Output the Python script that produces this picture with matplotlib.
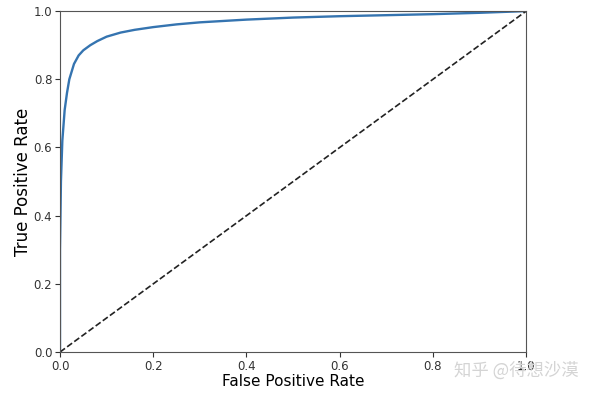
import matplotlib
matplotlib.use("Agg")
import matplotlib.pyplot as plt

# ROC curve values
fpr = [0, 0, 0.002, 0.005, 0.01, 0.015, 0.02, 0.03, 0.04, 0.05, 0.065, 0.08,
       0.1, 0.13, 0.16, 0.2, 0.25, 0.3, 0.4, 0.5, 0.6, 0.7, 0.8, 0.9, 1.0]
tpr = [0, 0.3, 0.5, 0.62, 0.71, 0.76, 0.8, 0.845, 0.87, 0.885, 0.9, 0.912,
       0.925, 0.937, 0.945, 0.953, 0.961, 0.967, 0.975, 0.981, 0.985, 0.988,
       0.991, 0.995, 1.0]
diag = [0, 1]
ticks = [0.0, 0.2, 0.4, 0.6, 0.8, 1.0]

fig = plt.figure(figsize=(6, 3.96), dpi=100)
ax = fig.add_axes([0.1, 0.111, 0.777, 0.861])
ax.plot(fpr, tpr, color="#3574b0", linewidth=1.7)
ax.plot(diag, diag, "--", color="#222222", linewidth=1.2)
ax.set_xlim(0, 1)
ax.set_ylim(0, 1)
ax.set_xticks(ticks)
ax.set_yticks(ticks)
ax.tick_params(labelsize=8.5, colors="#333333", pad=2)
for s in ax.spines.values():
    s.set_color("#555555")
ax.set_xlabel("False Positive Rate", fontsize=11, labelpad=1)
ax.set_ylabel("True Positive Rate", fontsize=12, labelpad=1)

fig.text(0.757, 0.05, "知乎 @待想沙漠", fontsize=12.5, color="#d4d4d4",
         family=["Noto Sans CJK SC", "DejaVu Sans"])

fig.savefig("out.png", dpi=100)
